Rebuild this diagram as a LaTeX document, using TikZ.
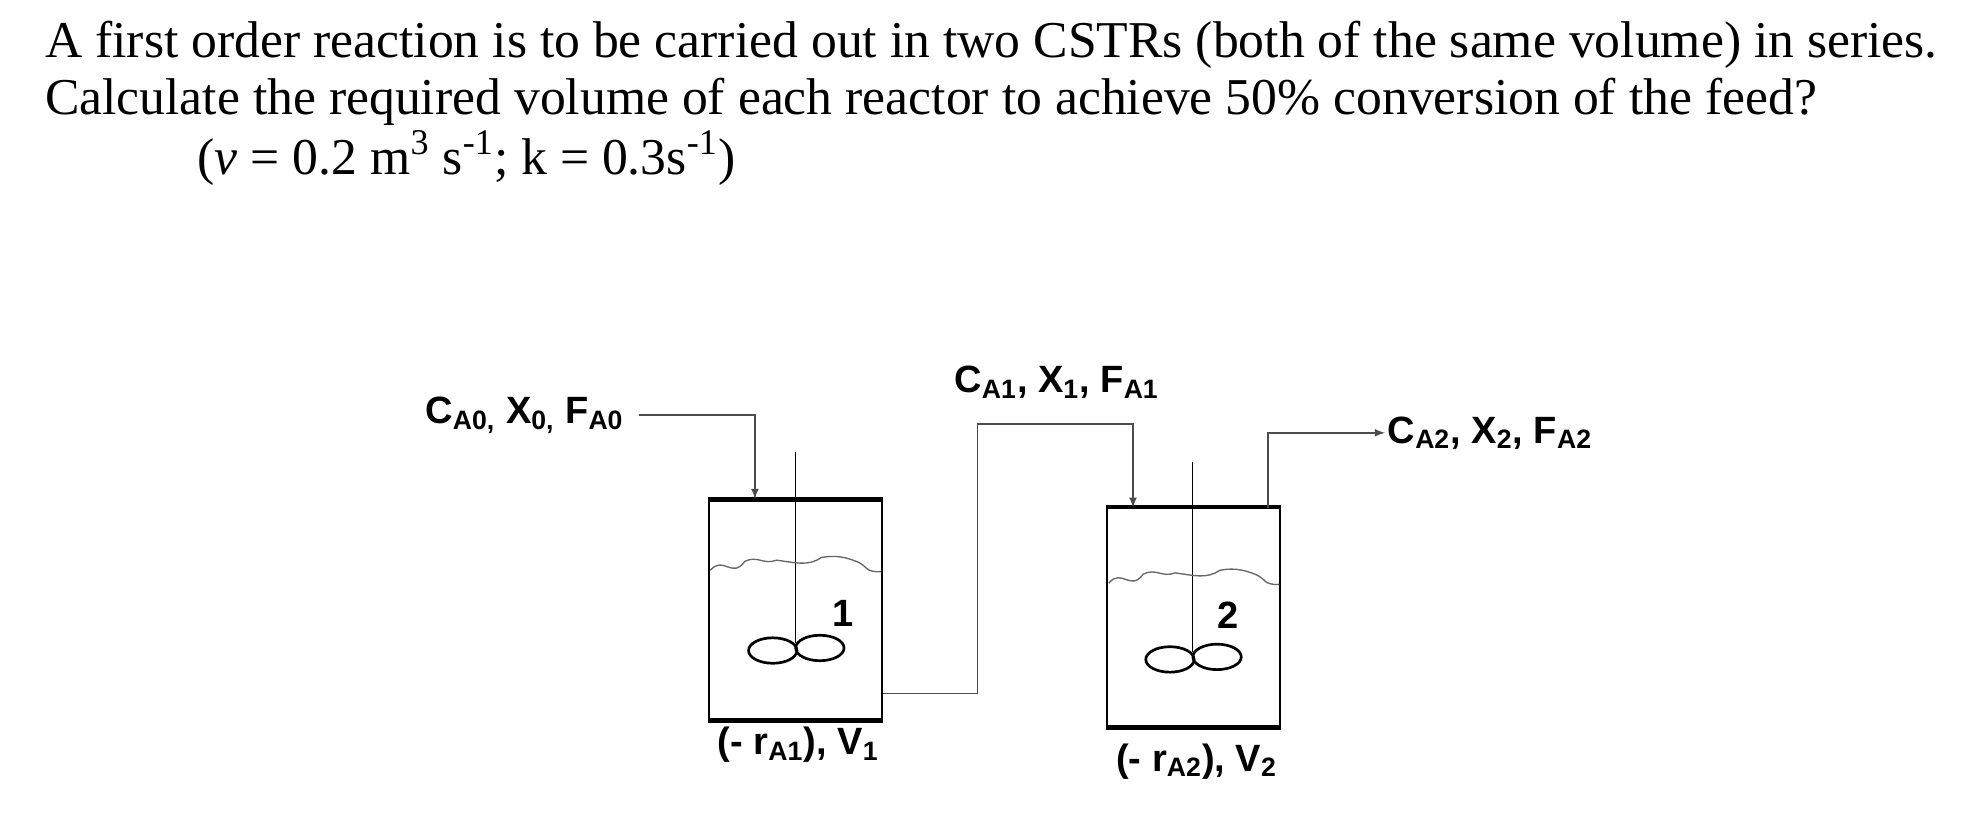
\documentclass[tikz,border=0pt]{standalone}
\usepackage{fontspec}
\setmainfont{Liberation Serif}
\newfontfamily\lbl{Liberation Sans}
\begin{document}
\begin{tikzpicture}[x=0.02cm,y=-0.02cm,
  lab/.style={font=\lbl\bfseries\fontsize{17}{20}\selectfont, inner sep=1pt},
  pipe/.style={draw=black!70, line width=0.6pt},
  tank/.style={draw, line width=0.9pt, minimum width=2.72cm, minimum height=3.44cm, inner sep=0pt},
  ttl/.style={font=\fontsize{23.1}{27}\selectfont, anchor=base west, inner sep=0pt}]
\useasboundingbox (0,0) rectangle (1560,641);
\node[ttl] (t1) at (35,45) {A first order reaction is to be carried out in two CSTRs (both of the same volume) in series.};
\node[ttl] (t2) at (35,90) {Calculate the required volume of each reactor to achieve 50\% conversion of the feed?};
\node[ttl] (t3) at (155,137) {(\textit{v} = 0.2 m\textsuperscript{3} s\textsuperscript{-1}; k = 0.3s\textsuperscript{-1})};
% tanks
\node[tank] (r1) at (625,479) {};
\node[tank] (r2) at (937.5,485) {};
\draw[line width=2.2pt] (r1.north west) -- (r1.north east);
\draw[line width=2.2pt] (r1.south west) -- (r1.south east);
\draw[line width=2.2pt] (r2.north west) -- (r2.north east);
\draw[line width=2.2pt] (r2.south west) -- (r2.south east);
% shafts, impellers
\draw[thin] (625,355) -- (625,505);
\draw[line width=1.2pt] (607,511) ellipse (0.38cm and 0.2cm) (644,509) ellipse (0.38cm and 0.2cm);
\draw[thin] (937,363) -- (937,512);
\draw[line width=1.2pt] (919,518) ellipse (0.38cm and 0.2cm) (956,516) ellipse (0.38cm and 0.2cm);
% liquid
\draw[black!60, line width=0.6pt] (558,448) .. controls (568,436) and (575,455) .. (585,441) .. controls (595,436) and (600,444) .. (610,440) .. controls (625,442) and (635,445) .. (645,438) .. controls (660,435) and (670,440) .. (675,442) .. controls (680,444) and (680,450) .. (692,449);
\draw[black!60, line width=0.6pt] (871,458) .. controls (881,446) and (888,465) .. (898,451) .. controls (908,446) and (913,454) .. (923,450) .. controls (938,452) and (948,455) .. (958,448) .. controls (973,445) and (983,450) .. (988,452) .. controls (993,454) and (993,460) .. (1005,459);
\node[lab] (n1) at (662,482) {1};
\node[lab] (n2) at (965,483) {2};
% labels
\node[lab, anchor=east] (in) at (492,326) {C\textsubscript{A0,} X\textsubscript{0,} F\textsubscript{A0}};
\node[lab] (mid) at (830,300) {C\textsubscript{A1}, X\textsubscript{1}, F\textsubscript{A1}};
\node[lab, anchor=west] (out) at (1088,340) {C\textsubscript{A2}, X\textsubscript{2}, F\textsubscript{A2}};
\node[lab] (v1) at (627,585) {(- r\textsubscript{A1}), V\textsubscript{1}};
\node[lab] (v2) at (940,598) {(- r\textsubscript{A2}), V\textsubscript{2}};
% pipes
\draw[pipe, -latex] (in.east) ++(10,0) -| (593,392);
\draw[pipe, -latex] (r1.east |- 0,545) -| (768,333) -| (890,399);
\draw[pipe, -latex] (996,399) |- (out.west);
\end{tikzpicture}
\end{document}
